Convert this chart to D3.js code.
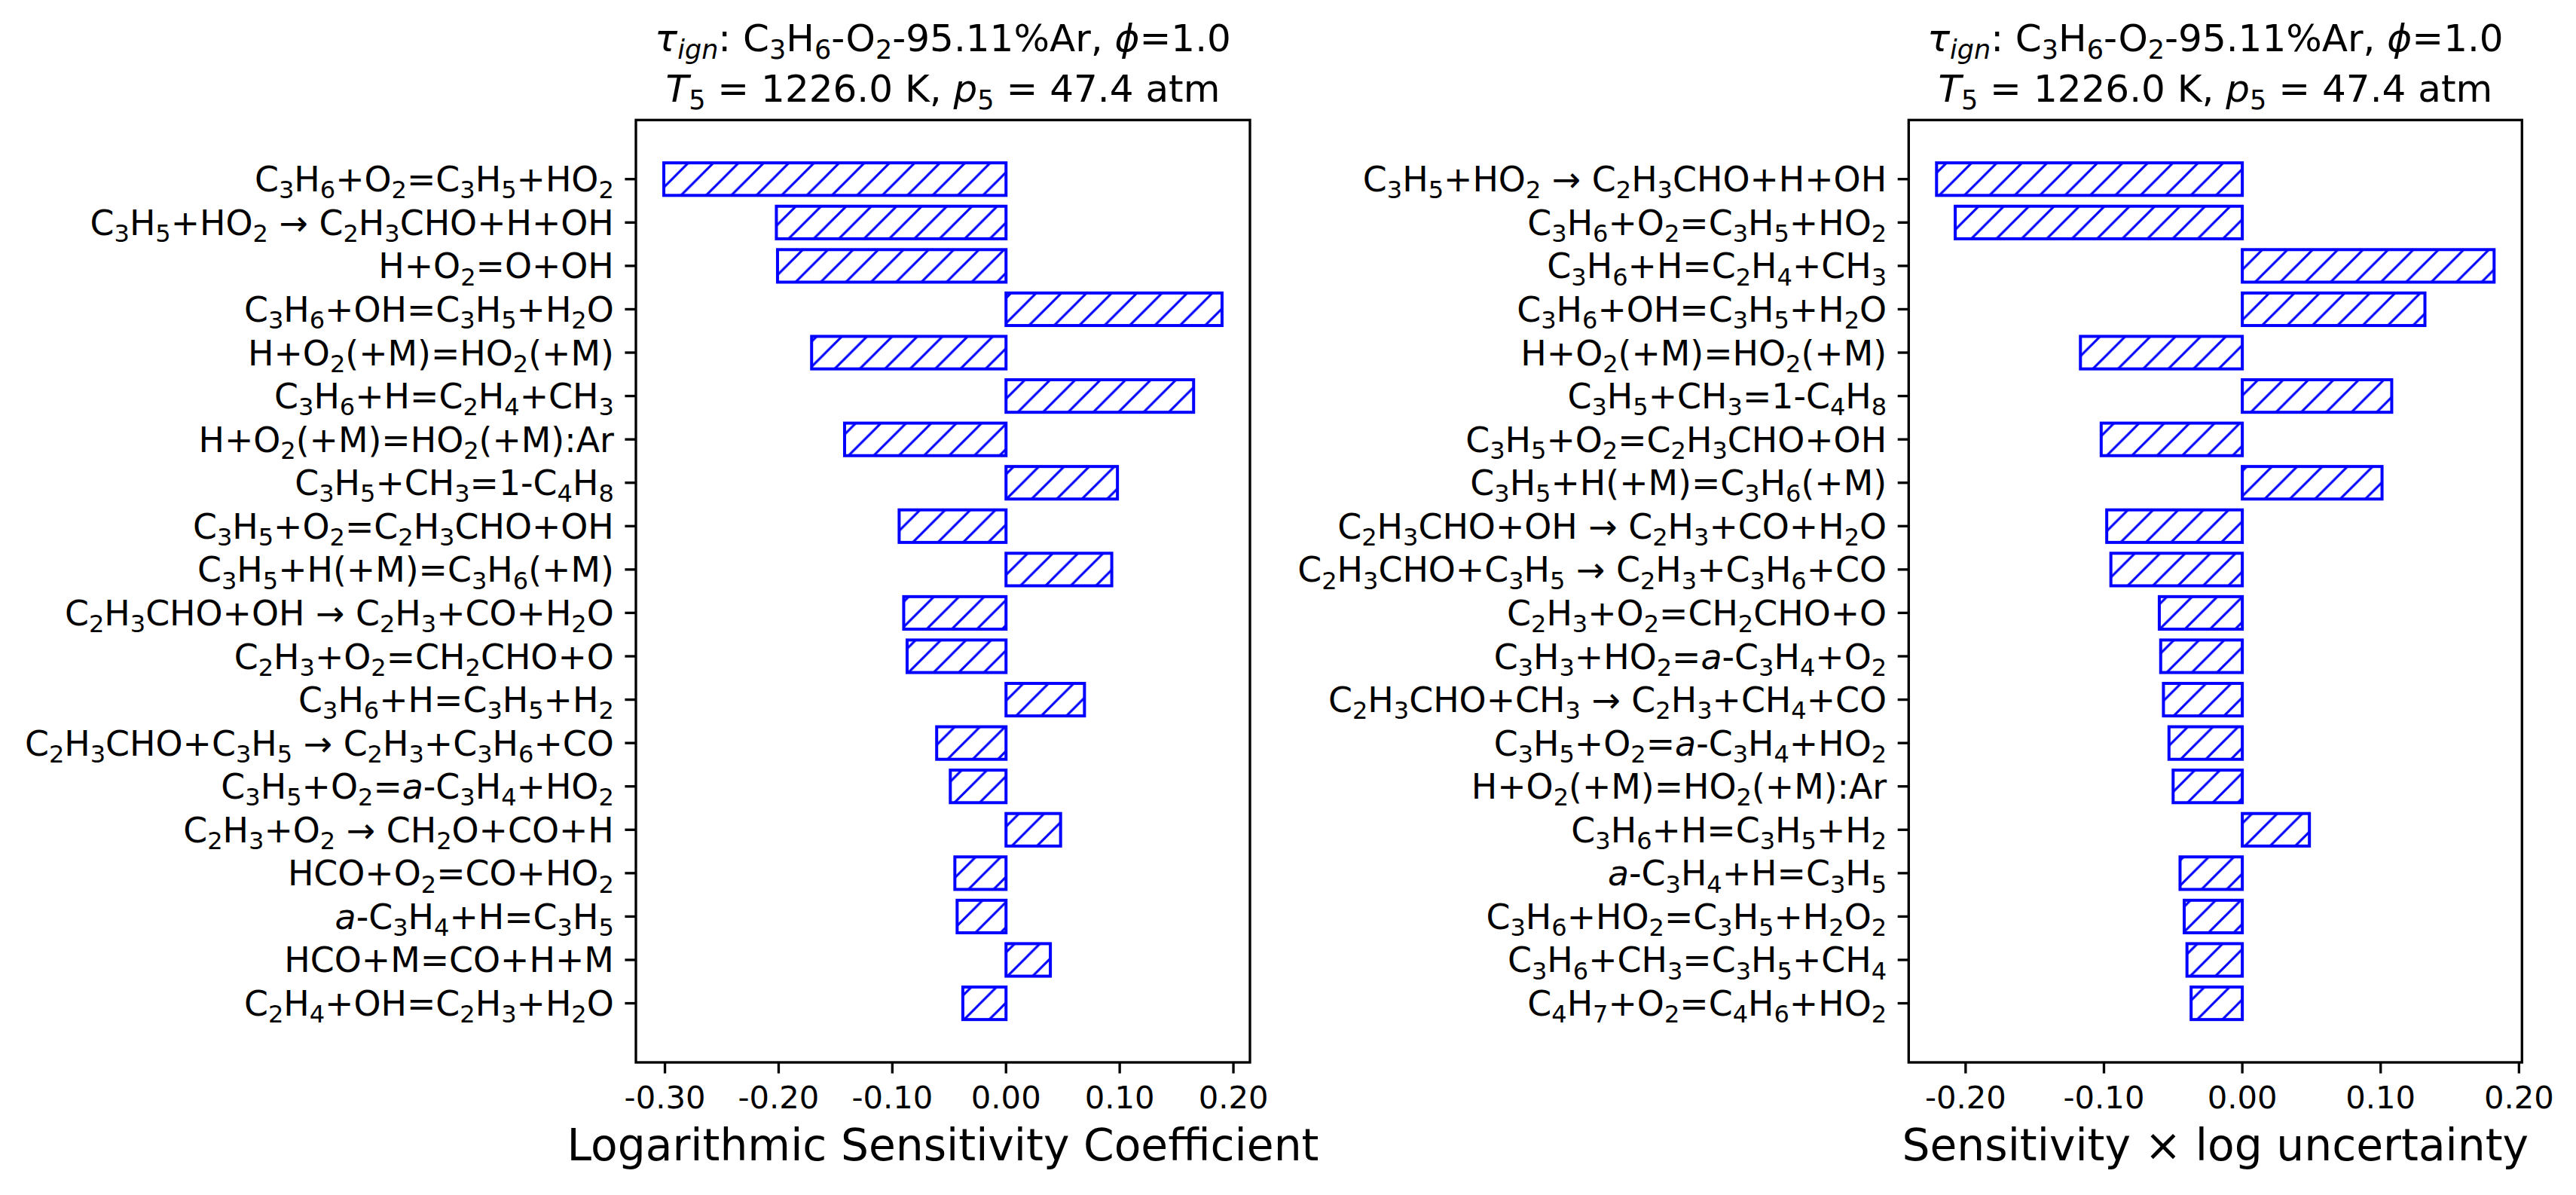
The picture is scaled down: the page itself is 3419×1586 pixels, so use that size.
<!DOCTYPE html>
<html>
<head>
<meta charset="utf-8">
<script src="https://cdn.jsdelivr.net/npm/d3@7"></script>
<style>
  body { margin: 0; background: #fff; }
  svg { display: block; }
  text { font-family: "DejaVu Sans"; white-space: pre; fill: #000; }
</style>
</head>
<body>
<div id="chart"></div>
<script>
// markup: _x / _{..} subscript, *..* italic
const leftLabels = [
  "C_3H_6+O_2=C_3H_5+HO_2",
  "C_3H_5+HO_2 → C_2H_3CHO+H+OH",
  "H+O_2=O+OH",
  "C_3H_6+OH=C_3H_5+H_2O",
  "H+O_2(+M)=HO_2(+M)",
  "C_3H_6+H=C_2H_4+CH_3",
  "H+O_2(+M)=HO_2(+M):Ar",
  "C_3H_5+CH_3=1-C_4H_8",
  "C_3H_5+O_2=C_2H_3CHO+OH",
  "C_3H_5+H(+M)=C_3H_6(+M)",
  "C_2H_3CHO+OH → C_2H_3+CO+H_2O",
  "C_2H_3+O_2=CH_2CHO+O",
  "C_3H_6+H=C_3H_5+H_2",
  "C_2H_3CHO+C_3H_5 → C_2H_3+C_3H_6+CO",
  "C_3H_5+O_2=*a*-C_3H_4+HO_2",
  "C_2H_3+O_2 → CH_2O+CO+H",
  "HCO+O_2=CO+HO_2",
  "*a*-C_3H_4+H=C_3H_5",
  "HCO+M=CO+H+M",
  "C_2H_4+OH=C_2H_3+H_2O"
];
const leftValues = [-0.301, -0.202, -0.201, 0.190, -0.171, 0.165, -0.142, 0.098, -0.094, 0.093,
                    -0.090, -0.087, 0.069, -0.061, -0.049, 0.048, -0.045, -0.043, 0.039, -0.038];

const rightLabels = [
  "C_3H_5+HO_2 → C_2H_3CHO+H+OH",
  "C_3H_6+O_2=C_3H_5+HO_2",
  "C_3H_6+H=C_2H_4+CH_3",
  "C_3H_6+OH=C_3H_5+H_2O",
  "H+O_2(+M)=HO_2(+M)",
  "C_3H_5+CH_3=1-C_4H_8",
  "C_3H_5+O_2=C_2H_3CHO+OH",
  "C_3H_5+H(+M)=C_3H_6(+M)",
  "C_2H_3CHO+OH → C_2H_3+CO+H_2O",
  "C_2H_3CHO+C_3H_5 → C_2H_3+C_3H_6+CO",
  "C_2H_3+O_2=CH_2CHO+O",
  "C_3H_3+HO_2=*a*-C_3H_4+O_2",
  "C_2H_3CHO+CH_3 → C_2H_3+CH_4+CO",
  "C_3H_5+O_2=*a*-C_3H_4+HO_2",
  "H+O_2(+M)=HO_2(+M):Ar",
  "C_3H_6+H=C_3H_5+H_2",
  "*a*-C_3H_4+H=C_3H_5",
  "C_3H_6+HO_2=C_3H_5+H_2O_2",
  "C_3H_6+CH_3=C_3H_5+CH_4",
  "C_4H_7+O_2=C_4H_6+HO_2"
];
const rightValues = [-0.221, -0.2075, 0.182, 0.132, -0.117, 0.108, -0.102, 0.101, -0.098, -0.095,
                     -0.060, -0.059, -0.057, -0.053, -0.050, 0.0485, -0.045, -0.042, -0.040, -0.037];

const leftTicks = [-0.3, -0.2, -0.1, 0, 0.1, 0.2];
const rightTicks = [-0.2, -0.1, 0, 0.1, 0.2];

const titleLines = ["*τ*_{*ign*}: C_3H_6-O_2-95.11%Ar, *ϕ*=1.0", "*T*_5 = 1226.0 K, *p*_5 = 47.4 atm"];
const leftXLabel = "Logarithmic Sensitivity Coefficient";
const rightXLabel = "Sensitivity × log uncertainty";

const width = 3419, height = 1586;
const axTop = 159.3, axBottom = 1410;
const tickLen = 14.6, tickPad = 14.6, spineW = 3.33;
const labelSize = 45.8, tickSize = 41.7, titleSize = 50, xlabelSize = 58.3;
const blue = "#0000ff";

const svg = d3.select("#chart").append("svg").attr("width", width).attr("height", height);
svg.append("rect").attr("width", width).attr("height", height).attr("fill", "#fff");

const hs = 33.4;
svg.append("defs").append("pattern")
    .attr("id", "hatch").attr("patternUnits", "userSpaceOnUse")
    .attr("width", hs).attr("height", hs).attr("patternTransform", "translate(27.5,0)")
  .append("path")
    .attr("d", `M${-hs/2},${hs/2}L${hs/2},${-hs/2}M0,${hs}L${hs},0M${hs/2},${hs*1.5}L${hs*1.5},${hs/2}`)
    .attr("stroke", blue).attr("stroke-width", 3).attr("fill", "none");

function parseRich(str) {
  const runs = [];
  let italic = false;
  const push = (t, sub) => {
    const last = runs[runs.length - 1];
    if (last && last.sub === sub && last.italic === italic) last.text += t;
    else runs.push({ text: t, sub, italic });
  };
  for (let i = 0; i < str.length;) {
    const c = str[i];
    if (c === "*") { italic = !italic; i++; continue; }
    if (c === "_") {
      if (str[i + 1] === "{") {
        const j = str.indexOf("}", i);
        for (const ch of str.slice(i + 2, j)) {
          if (ch === "*") italic = !italic; else push(ch, true);
        }
        i = j + 1;
      } else { push(str[i + 1], true); i += 2; }
      continue;
    }
    push(c, false); i++;
  }
  return runs;
}

function richText(sel, str, size) {
  const shift = size * 0.2;
  let cur = 0;
  parseRich(str).forEach(r => {
    const target = r.sub ? shift : 0;
    sel.append("tspan")
      .attr("dy", target - cur)
      .attr("font-size", r.sub ? size * 0.7 : size)
      .attr("font-style", r.italic ? "italic" : "normal")
      .text(r.text);
    cur = target;
  });
}

function drawPanel(labels, values, ticks, x0, x1, xlabel) {
  const n = values.length;
  const barH = 0.75;
  const [lo, hi] = d3.extent(values.concat(0));
  const mx = (hi - lo) * 0.05;
  const x = d3.scaleLinear().domain([lo - mx, hi + mx]).range([x0, x1]);
  const my = (n - 1 + barH) * 0.05;
  const y = d3.scaleLinear().domain([-barH / 2 - my, n - 1 + barH / 2 + my]).range([axTop, axBottom]);

  const g = svg.append("g");

  g.selectAll("rect.bar").data(values).join("rect")
    .attr("class", "bar")
    .attr("x", d => x(Math.min(0, d)))
    .attr("width", d => Math.abs(x(d) - x(0)))
    .attr("y", (d, i) => y(i - barH / 2))
    .attr("height", y(barH) - y(0))
    .attr("fill", "url(#hatch)")
    .attr("stroke", blue).attr("stroke-width", 4);

  // spines
  g.append("rect").attr("x", x0).attr("y", axTop).attr("width", x1 - x0).attr("height", axBottom - axTop)
    .attr("fill", "none").attr("stroke", "#000").attr("stroke-width", spineW);

  // x ticks
  const xt = g.selectAll("g.xt").data(ticks).join("g").attr("class", "xt")
    .attr("transform", d => `translate(${x(d)},${axBottom})`);
  xt.append("line").attr("y2", tickLen).attr("stroke", "#000").attr("stroke-width", spineW);
  xt.append("text").attr("y", tickLen + tickPad + tickSize * 0.76).attr("text-anchor", "middle")
    .attr("font-size", tickSize).text(d => d.toFixed(2));

  // y ticks
  const yt = g.selectAll("g.yt").data(labels).join("g").attr("class", "yt")
    .attr("transform", (d, i) => `translate(${x0},${y(i)})`);
  yt.append("line").attr("x2", -tickLen).attr("stroke", "#000").attr("stroke-width", spineW);
  yt.append("text").attr("x", -tickLen - tickPad).attr("y", labelSize * 0.36).attr("text-anchor", "end")
    .each(function (d) { richText(d3.select(this), d, labelSize); });

  const cx = (x0 + x1) / 2;
  g.append("text").attr("x", cx).attr("y", 1540).attr("text-anchor", "middle")
    .attr("font-size", xlabelSize).text(xlabel);

  [68, 135].forEach((by, k) => {
    g.append("text").attr("x", cx).attr("y", by).attr("text-anchor", "middle")
      .each(function () { richText(d3.select(this), titleLines[k], titleSize); });
  });
}

drawPanel(leftLabels, leftValues, leftTicks, 844, 1659, leftXLabel);
drawPanel(rightLabels, rightValues, rightTicks, 2533.3, 3347.3, rightXLabel);
</script>
</body>
</html>
